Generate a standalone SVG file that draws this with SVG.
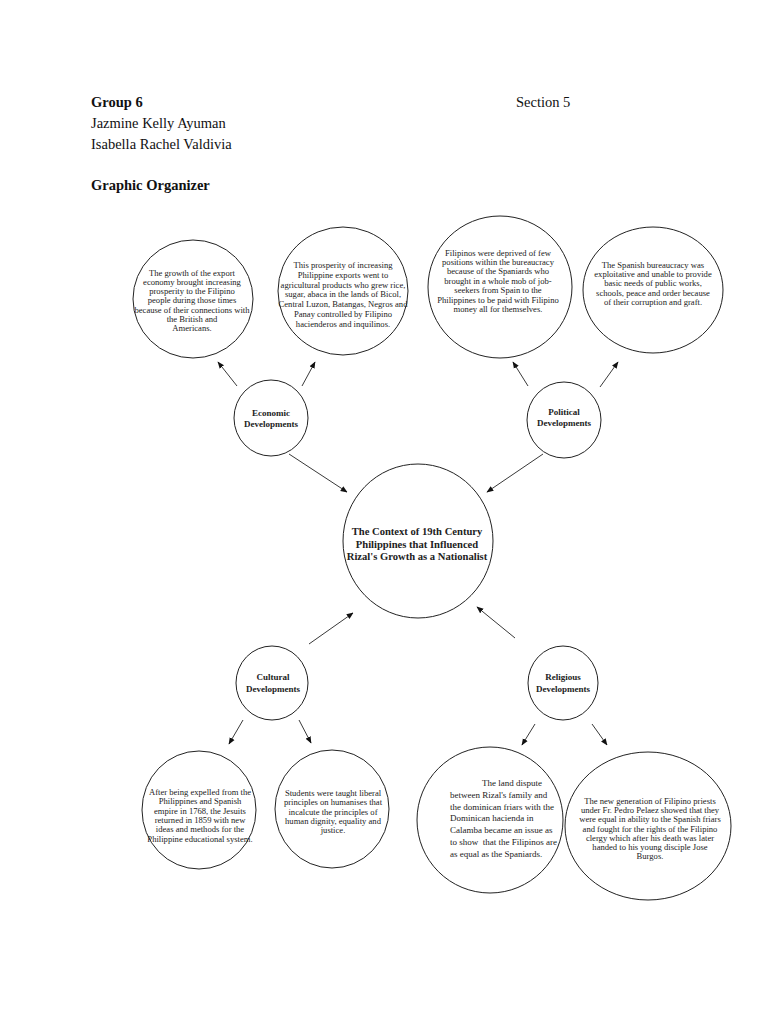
<svg xmlns="http://www.w3.org/2000/svg" width="768" height="1024" viewBox="0 0 768 1024">
<defs>
<marker id="ah" viewBox="0 0 10 10" refX="9" refY="5" markerWidth="7" markerHeight="7" markerUnits="userSpaceOnUse" orient="auto">
<path d="M0,1 L10,5 L0,9 z" fill="#111"/>
</marker>
<style>
.hd{font-family:"Liberation Serif","Times New Roman",serif;font-size:14.5px;fill:#111}
.b{font-weight:bold}
.c{fill:#fff;stroke:#222;stroke-width:1}
.t{font-family:"Liberation Serif","Times New Roman",serif;font-size:8.6px;fill:#222;text-anchor:middle}
.l{font-family:"Liberation Serif","Times New Roman",serif;font-size:9px;fill:#222;white-space:pre}
.m{font-family:"Liberation Serif","Times New Roman",serif;font-size:9px;font-weight:bold;fill:#222;text-anchor:middle}
.ct{font-family:"Liberation Serif","Times New Roman",serif;font-size:10.6px;font-weight:bold;fill:#222;text-anchor:middle}
.a{stroke:#222;stroke-width:0.9;fill:none;marker-end:url(#ah)}
</style>
</defs>
<rect width="768" height="1024" fill="#fff"/>
<g id="header">
<text class="hd b" x="91" y="107">Group 6</text>
<text class="hd" x="516" y="107">Section 5</text>
<text class="hd" x="91" y="128">Jazmine Kelly Ayuman</text>
<text class="hd" x="91" y="148.5">Isabella Rachel Valdivia</text>
<text class="hd b" x="91" y="190">Graphic Organizer</text>
</g>
<g id="connectors">
<line class="a" x1="237" y1="386" x2="218" y2="362"/>
<line class="a" x1="302" y1="386" x2="315" y2="362"/>
<line class="a" x1="289" y1="454" x2="347" y2="492"/>
<line class="a" x1="528" y1="386" x2="513" y2="362"/>
<line class="a" x1="600" y1="387" x2="618" y2="362"/>
<line class="a" x1="543" y1="454" x2="487" y2="492"/>
<line class="a" x1="309" y1="644" x2="353" y2="613"/>
<line class="a" x1="515" y1="638" x2="477" y2="607"/>
<line class="a" x1="243" y1="720" x2="229" y2="744"/>
<line class="a" x1="299" y1="720" x2="311" y2="743"/>
<line class="a" x1="535" y1="724" x2="522" y2="745"/>
<line class="a" x1="592" y1="724" x2="607" y2="745"/>
</g>
<g id="econ-1">
<ellipse class="c" cx="193" cy="299" rx="60" ry="59"/>
<text class="t" x="192" y="275.5">The growth of the export</text>
<text class="t" x="192" y="284.8">economy brought increasing</text>
<text class="t" x="192" y="294.1">prosperity to the Filipino</text>
<text class="t" x="192" y="303.4">people during those times</text>
<text class="t" x="192" y="312.7">because of their connections with</text>
<text class="t" x="192" y="322">the British and</text>
<text class="t" x="192" y="331.3">Americans.</text>
</g>
<g id="econ-2">
<ellipse class="c" cx="343" cy="291" rx="65" ry="64"/>
<text class="t" x="343" y="268">This prosperity of increasing</text>
<text class="t" x="343" y="277.8">Philippine exports went to</text>
<text class="t" x="343" y="287.6">agricultural products who grew rice,</text>
<text class="t" x="343" y="297.4">sugar, abaca in the lands of Bicol,</text>
<text class="t" x="343" y="307.2">Central Luzon, Batangas, Negros and</text>
<text class="t" x="343" y="317">Panay controlled by Filipino</text>
<text class="t" x="343" y="326.8">hacienderos and inquilinos.</text>
</g>
<g id="pol-1">
<ellipse class="c" cx="500" cy="287" rx="72" ry="71"/>
<text class="t" x="498" y="255.5">Filipinos were deprived of few</text>
<text class="t" x="498" y="264.9">positions within the bureaucracy</text>
<text class="t" x="498" y="274.3">because of the Spaniards who</text>
<text class="t" x="498" y="283.7">brought in a whole mob of job-</text>
<text class="t" x="498" y="293.1">seekers from Spain to the</text>
<text class="t" x="498" y="302.5">Philippines to be paid with Filipino</text>
<text class="t" x="498" y="311.9">money all for themselves.</text>
</g>
<g id="pol-2">
<ellipse class="c" cx="653" cy="290" rx="70" ry="63"/>
<text class="t" x="653" y="268">The Spanish bureaucracy was</text>
<text class="t" x="653" y="277.2">exploitative and unable to provide</text>
<text class="t" x="653" y="286.4">basic needs of public works,</text>
<text class="t" x="653" y="295.6">schools, peace and order because</text>
<text class="t" x="653" y="304.8">of their corruption and graft.</text>
</g>
<g id="economic">
<ellipse class="c" cx="271" cy="418" rx="37" ry="38"/>
<text class="m" x="271" y="416">Economic</text>
<text class="m" x="271" y="426.5">Developments</text>
</g>
<g id="political">
<ellipse class="c" cx="564" cy="420" rx="37" ry="38"/>
<text class="m" x="564" y="415">Political</text>
<text class="m" x="564" y="425.5">Developments</text>
</g>
<g id="center">
<ellipse class="c" cx="418" cy="541" rx="75" ry="77"/>
<text class="ct" x="417" y="535">The Context of 19th Century</text>
<text class="ct" x="417" y="547.5">Philippines that Influenced</text>
<text class="ct" x="417" y="560">Rizal's Growth as a Nationalist</text>
</g>
<g id="cultural">
<ellipse class="c" cx="272" cy="683" rx="36" ry="37"/>
<text class="m" x="273" y="680">Cultural</text>
<text class="m" x="273" y="692">Developments</text>
</g>
<g id="religious">
<ellipse class="c" cx="563" cy="683" rx="35" ry="37"/>
<text class="m" x="563" y="680">Religious</text>
<text class="m" x="563" y="692">Developments</text>
</g>
<g id="cult-1">
<ellipse class="c" cx="199" cy="810" rx="57" ry="59"/>
<text class="t" x="200" y="795">After being expelled from the</text>
<text class="t" x="200" y="804.3">Philippines and Spanish</text>
<text class="t" x="200" y="813.6">empire in 1768, the Jesuits</text>
<text class="t" x="200" y="822.9">returned in 1859 with new</text>
<text class="t" x="200" y="832.2">ideas and methods for the</text>
<text class="t" x="200" y="841.5">Philippine educational system.</text>
</g>
<g id="cult-2">
<ellipse class="c" cx="332" cy="809" rx="57" ry="59"/>
<text class="t" x="333" y="796">Students were taught liberal</text>
<text class="t" x="333" y="805.3">principles on humanises that</text>
<text class="t" x="333" y="814.6">incalcute the principles of</text>
<text class="t" x="333" y="823.9">human dignity, equality and</text>
<text class="t" x="333" y="833.2">justice.</text>
</g>
<g id="rel-1">
<ellipse class="c" cx="490" cy="820" rx="73" ry="73"/>
<text class="l" x="482" y="786">The land dispute</text>
<text class="l" x="450" y="797.8">between Rizal's family and</text>
<text class="l" x="450" y="809.6">the dominican friars with the</text>
<text class="l" x="450" y="821.4">Dominican hacienda in</text>
<text class="l" x="450" y="833.2">Calamba became an issue as</text>
<text class="l" x="450" y="845">to show  that the Filipinos are</text>
<text class="l" x="450" y="856.8">as equal as the Spaniards.</text>
</g>
<g id="rel-2">
<ellipse class="c" cx="648" cy="826" rx="83" ry="74"/>
<text class="t" x="650" y="804">The new generation of Filipino priests</text>
<text class="t" x="650" y="813.2">under Fr. Pedro Pelaez showed that they</text>
<text class="t" x="650" y="822.4">were equal in ability to the Spanish friars</text>
<text class="t" x="650" y="831.6">and fought for the rights of the Filipino</text>
<text class="t" x="650" y="840.8">clergy which after his death was later</text>
<text class="t" x="650" y="850">handed to his young disciple Jose</text>
<text class="t" x="650" y="859.2">Burgos.</text>
</g>
</svg>
